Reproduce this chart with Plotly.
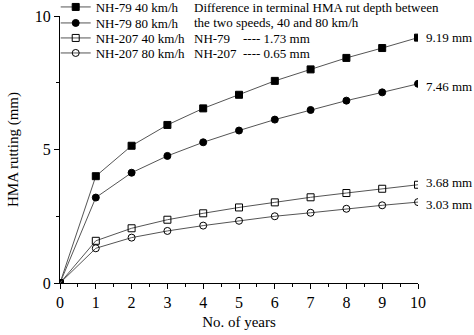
import plotly.graph_objects as go

years = [0, 1, 2, 3, 4, 5, 6, 7, 8, 9, 10]
nh79_40 = [0, 4.00, 5.14, 5.92, 6.54, 7.05, 7.57, 8.00, 8.43, 8.80, 9.19]
nh79_80 = [0, 3.20, 4.13, 4.76, 5.27, 5.71, 6.12, 6.48, 6.83, 7.14, 7.46]
nh207_40 = [0, 1.58, 2.05, 2.37, 2.61, 2.83, 3.02, 3.21, 3.37, 3.53, 3.68]
nh207_80 = [0, 1.30, 1.70, 1.95, 2.15, 2.33, 2.50, 2.63, 2.78, 2.91, 3.03]

series_names = ["NH-79 40 km/h", "NH-79 80 km/h", "NH-207 40 km/h", "NH-207 80 km/h"]
series_vals = [nh79_40, nh79_80, nh207_40, nh207_80]
symbols = ["square", "circle", "square-open", "circle-open"]
end_labels = ["9.19 mm", "7.46 mm", "3.68 mm", "3.03 mm"]
end_label_shift = [0, -3, 2, -2]

note_lines = ["Difference in terminal HMA rut depth between",
              "the two speeds, 40 and 80 km/h"]
diff_names = ["NH-79", "NH-207"]
diff_vals = ["---- 1.73 mm", "---- 0.65 mm"]

FONT = "Liberation Serif, Times New Roman, serif"

# vertical centres (paper fraction) of the four text rows at the top
row_y = [1.0337, 0.9738, 0.9176, 0.8614]
legend_ids = ["legend", "legend2", "legend3", "legend4"]

fig = go.Figure()
for name, vals, sym, lid in zip(series_names, series_vals, symbols, legend_ids):
    fig.add_trace(go.Scatter(
        x=years, y=vals, name=name, mode="lines+markers",
        line=dict(color="#555555", width=1),
        marker=dict(symbol=sym, size=7, color="black",
                    line=dict(color="black", width=1)),
        cliponaxis=True, legend=lid,
    ))

annotations = []
for lab, vals, sh in zip(end_labels, series_vals, end_label_shift):
    annotations.append(dict(x=1, xref="paper", y=vals[-1], yref="y",
                            text=lab, showarrow=False, xanchor="left",
                            xshift=6, yshift=sh, font=dict(size=13)))

for t, yy in zip(note_lines, row_y[:2]):
    annotations.append(dict(x=0.369, xref="paper", y=yy, yref="paper", text=t,
                            showarrow=False, xanchor="left", yanchor="middle",
                            font=dict(size=13)))
for n, v, yy in zip(diff_names, diff_vals, row_y[2:]):
    annotations.append(dict(x=0.369, xref="paper", y=yy, yref="paper", text=n,
                            showarrow=False, xanchor="left", yanchor="middle",
                            font=dict(size=13)))
    annotations.append(dict(x=0.506, xref="paper", y=yy, yref="paper", text=v,
                            showarrow=False, xanchor="left", yanchor="middle",
                            font=dict(size=13)))

axis_common = dict(
    showline=True, linecolor="black", linewidth=1, mirror=False,
    ticks="outside", ticklen=5, tickwidth=1, tickcolor="black",
    showgrid=False, zeroline=False,
    tickfont=dict(size=16, color="black", family=FONT),
)

legend_layout = {}
for lid, yy in zip(legend_ids, row_y):
    legend_layout[lid] = dict(x=-0.012, y=yy, xanchor="left", yanchor="middle",
                              bgcolor="rgba(0,0,0,0)", font=dict(size=13),
                              itemwidth=30, borderwidth=0)

fig.update_layout(
    width=474, height=335,
    margin=dict(l=60, r=56, t=16, b=52, autoexpand=False),
    paper_bgcolor="white", plot_bgcolor="white",
    font=dict(family=FONT, color="black", size=13),
    showlegend=True,
    xaxis=dict(range=[0, 10], tick0=0, dtick=1,
               minor=dict(ticks="outside", ticklen=3, dtick=0.5, tick0=0,
                          tickcolor="black"),
               title=dict(text="No. of years", font=dict(size=15), standoff=6),
               **axis_common),
    yaxis=dict(range=[0, 10], tick0=0, dtick=5,
               minor=dict(ticks="outside", ticklen=3, dtick=2.5, tick0=0,
                          tickcolor="black"),
               title=dict(text="HMA rutting (mm)", font=dict(size=15), standoff=12),
               **axis_common),
    annotations=annotations,
    **legend_layout,
)

fig.write_html("out.html")
